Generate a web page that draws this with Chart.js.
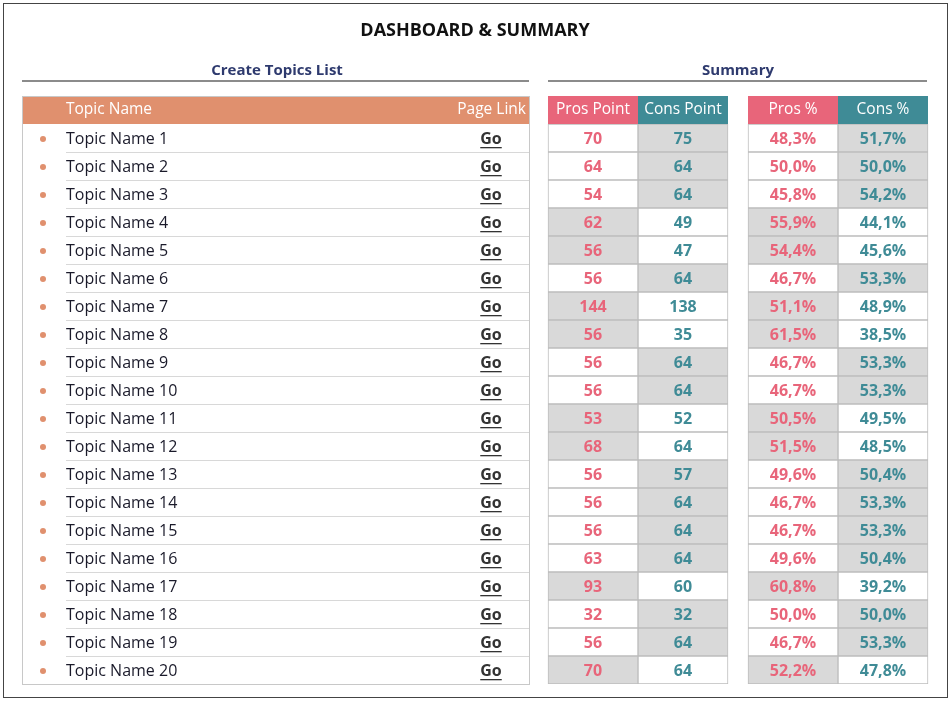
<!DOCTYPE html>
<html><head><meta charset="utf-8">
<script src="https://cdn.jsdelivr.net/npm/chart.js@4.4.0/dist/chart.umd.min.js"></script>
<style>body{margin:0;background:#fff}canvas{display:block}</style>
</head><body>
<canvas id="c" width="952" height="703"></canvas>
<script>
const topics = Array.from({length:20},(_,i)=>'Topic Name '+(i+1));
const prosPoints = [70,64,54,62,56,56,144,56,56,56,53,68,56,56,56,63,93,32,56,70];
const consPoints = [75,64,64,49,47,64,138,35,64,64,52,64,57,64,64,64,60,32,64,64];
const prosPct = ['48,3%','50,0%','45,8%','55,9%','54,4%','46,7%','51,1%','61,5%','46,7%','46,7%','50,5%','51,5%','49,6%','46,7%','46,7%','49,6%','60,8%','50,0%','46,7%','52,2%'];
const consPct = ['51,7%','50,0%','54,2%','44,1%','45,6%','53,3%','48,9%','38,5%','53,3%','53,3%','49,5%','48,5%','50,4%','53,3%','53,3%','50,4%','39,2%','50,0%','53,3%','47,8%'];
const headers = ['Topic Name','Page Link','Pros Point','Cons Point','Pros %','Cons %'];
const linkText = 'Go';

const COL = {pp:[548,638],cp:[638,728],pc:[748,838],cc:[838,928]};
const PINK='#e8657a', TEAL='#3f8b96', ORANGE='#e0906e', GRAY='#d9d9d9';
const FONT='"Open Sans", Lato, sans-serif';

function cellDs(range, grayFn){
  return {data: topics.map((_,i)=>range),
    backgroundColor: topics.map((_,i)=>grayFn(i)?GRAY:'#ffffff'),
    borderColor:'#bdbdbd', borderWidth:1, borderSkipped:false, grouped:false,
    barPercentage:1, categoryPercentage:1};
}
const prosBig = i => prosPoints[i] > consPoints[i];

const textPlugin = {
  id:'txt',
  beforeDraw(chart){
    const c=chart.ctx, x=chart.scales.x;
    const X=v=>x.getPixelForValue(v);
    c.save();
    c.fillStyle='#fff'; c.fillRect(0,0,952,703);
    c.strokeStyle='#444'; c.lineWidth=1; c.strokeRect(3.5,3.5,944,694);
    c.fillStyle='#111'; c.font='bold 18px '+FONT; c.textAlign='center'; c.textBaseline='middle';
    c.fillText('DASHBOARD & SUMMARY',X(475),31);
    c.fillStyle='#2e3a6e'; c.font='bold 15px '+FONT;
    c.fillText('Create Topics List',X(277),71);
    c.fillText('Summary',X(738),71);
    c.strokeStyle='#666'; c.lineWidth=1.5;
    c.beginPath(); c.moveTo(X(22),81); c.lineTo(X(529),81); c.moveTo(X(548),81); c.lineTo(X(927),81); c.stroke();
    c.fillStyle=ORANGE; c.fillRect(X(23),96,X(529)-X(23),28);
    const hd=[[COL.pp,PINK],[COL.cp,TEAL],[COL.pc,PINK],[COL.cc,TEAL]];
    hd.forEach(([r,col])=>{c.fillStyle=col;c.fillRect(X(r[0]),96,X(r[1])-X(r[0]),28);});
    c.fillStyle='#fff'; c.font='15.5px '+FONT;
    c.textAlign='left'; c.fillText(headers[0],X(66),110);
    c.textAlign='right'; c.fillText(headers[1],X(526),110);
    c.textAlign='center';
    [COL.pp,COL.cp,COL.pc,COL.cc].forEach((r,k)=>c.fillText(headers[k+2],X((r[0]+r[1])/2),110));
    c.strokeStyle='#c8c8c8'; c.lineWidth=1;
    c.strokeRect(X(22)+0.5,96.5,X(529)-X(22),chart.chartArea.bottom-96);
    c.restore();
  },
  afterDatasetsDraw(chart){
    const c=chart.ctx, x=chart.scales.x, y=chart.scales.y;
    const X=v=>x.getPixelForValue(v);
    c.save(); c.textBaseline='middle';
    topics.forEach((t,i)=>{
      const py=y.getPixelForValue(i), h=y.getPixelForValue(1)-y.getPixelForValue(0);
      c.fillStyle=ORANGE; c.beginPath(); c.arc(X(43),py+1,3,0,Math.PI*2); c.fill();
      c.fillStyle='#1a1a2a'; c.font='16px '+FONT; c.textAlign='left';
      c.fillText(t,X(66),py+1);
      c.strokeStyle='#d8d8d8'; c.lineWidth=1;
      if(i<topics.length-1){c.beginPath(); c.moveTo(X(66),Math.round(py+h/2)+0.5); c.lineTo(X(529),Math.round(py+h/2)+0.5); c.stroke();}
      c.font='bold 16px '+FONT; c.textAlign='center'; c.fillStyle='#333';
      c.fillText(linkText,X(491),py+1);
      const w=c.measureText(linkText).width;
      c.fillRect(X(491)-w/2,py+9,w,1.3);
      c.font='bold 16px '+FONT;
      c.fillStyle=PINK; c.fillText(prosPoints[i],X(593),py+1); c.fillText(prosPct[i],X(793),py+1);
      c.fillStyle=TEAL; c.fillText(consPoints[i],X(683),py+1); c.fillText(consPct[i],X(883),py+1);
    });
    c.restore();
  }
};

new Chart(document.getElementById('c'),{
  type:'bar',
  data:{labels:topics,datasets:[
    cellDs(COL.pp,i=>prosBig(i)), cellDs(COL.cp,i=>!prosBig(i)),
    cellDs(COL.pc,i=>prosBig(i)), cellDs(COL.cc,i=>!prosBig(i))
  ]},
  options:{indexAxis:'y',responsive:false,animation:false,
    layout:{padding:{top:124,bottom:19,left:0,right:0}},
    plugins:{legend:{display:false},tooltip:{enabled:false}},
    scales:{x:{type:'linear',min:0,max:952,display:false},
            y:{type:'category',display:false,offset:true}}},
  plugins:[textPlugin]
});
</script>
</body></html>
